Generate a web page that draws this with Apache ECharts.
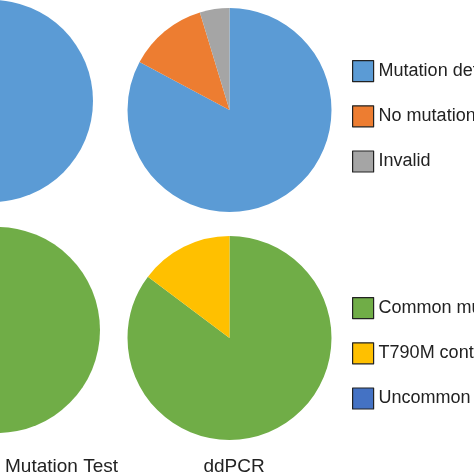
<!DOCTYPE html>
<html><head><meta charset="utf-8">
<script src="https://cdn.jsdelivr.net/npm/echarts@6/dist/echarts.min.js"></script>
<style>html,body{margin:0;padding:0;background:#fff}#c{width:474px;height:474px}</style>
</head><body><div id="c"></div>
<script>
const topNames = ['Mutation detected', 'No mutation', 'Invalid'];
const topColors = ['#5B9BD5', '#ED7D31', '#A5A5A5'];
const topMutationTest = [64, 0, 0];
const topDdpcr = [53, 8, 3];
const botNames = ['Common mutation', 'T790M containing', 'Uncommon mutation'];
const botColors = ['#70AD47', '#FFC000', '#4472C4'];
const botMutationTest = [61, 0, 0];
const botDdpcr = [52, 9, 0];
const columnTitles = ['Mutation Test', 'ddPCR'];

function mk(names, colors, vals, center, r) {
  return {
    type: 'pie', radius: r, center: center, silent: true,
    label: {show: false}, labelLine: {show: false},
    startAngle: 90, clockwise: true,
    data: names.map((n, i) => ({name: n, value: vals[i], itemStyle: {color: colors[i]}}))
  };
}
const chart = echarts.init(document.getElementById('c'));
chart.setOption({
  animation: false,
  title: [
    {text: columnTitles[0], left: 0, top: 452, textStyle: {fontFamily: 'Liberation Sans', fontSize: 19, fontWeight: 'normal', color: '#222'}},
    {text: columnTitles[1], left: 229, top: 452, textAlign: 'center', textStyle: {fontFamily: 'Liberation Sans', fontSize: 19, fontWeight: 'normal', color: '#222'}}
  ],
  legend: [
    {data: topNames, orient: 'vertical', left: 347, top: 55, itemWidth: 21, itemHeight: 21, itemGap: 23,
     icon: 'rect', itemStyle: {borderColor: '#222', borderWidth: 1.2},
     textStyle: {fontFamily: 'Liberation Sans', fontSize: 18, color: '#222'}},
    {data: botNames, orient: 'vertical', left: 347, top: 292, itemWidth: 21, itemHeight: 21, itemGap: 23,
     icon: 'rect', itemStyle: {borderColor: '#222', borderWidth: 1.2},
     textStyle: {fontFamily: 'Liberation Sans', fontSize: 18, color: '#222'}}
  ],
  series: [
    mk(topNames, topColors, topMutationTest, [-8, 101], 101),
    mk(topNames, topColors, topDdpcr, [229.5, 110], 102),
    mk(botNames, botColors, botMutationTest, [-3, 330], 103),
    mk(botNames, botColors, botDdpcr, [229.5, 338], 102)
  ]
});
</script></body></html>
